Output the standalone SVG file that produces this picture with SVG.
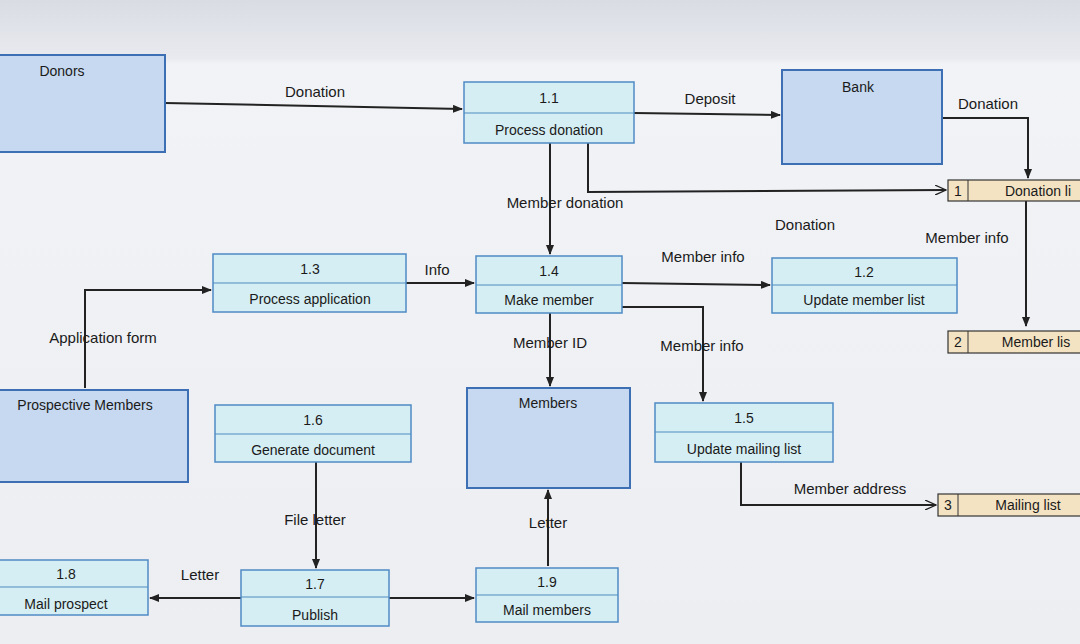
<svg xmlns="http://www.w3.org/2000/svg" width="1080" height="644" viewBox="0 0 1080 644">
<defs>
<marker id="a" markerWidth="10" markerHeight="8" refX="9" refY="4" orient="auto" markerUnits="userSpaceOnUse"><path d="M0,0 L10,4 L0,8 Z" fill="#222"/></marker>
<marker id="o" markerWidth="12" markerHeight="10" refX="11" refY="5" orient="auto" markerUnits="userSpaceOnUse"><path d="M0,0 L11,5 L0,10" fill="none" stroke="#222" stroke-width="1.3"/></marker>
<linearGradient id="bg" x1="0" y1="0" x2="0" y2="1"><stop offset="0" stop-color="#d9dce3"/><stop offset="0.09" stop-color="#e8eaef"/><stop offset="0.1" stop-color="#f1f3f6"/><stop offset="1" stop-color="#eceef2"/></linearGradient>
</defs>
<style>
text{font-family:"Liberation Sans",Arial,sans-serif;font-size:14px;fill:#1a1a1a;text-anchor:middle}
.ent{fill:#c6d9f0;stroke:#3d6fb4;stroke-width:2}
.proc{fill:#d5eef3;stroke:#4f8bc4;stroke-width:1.5}
.div{stroke:#4f8bc4;stroke-width:1.2}
.st{fill:#f4e3c3;stroke:#333;stroke-width:1.2}
.c{fill:none;stroke:#222;stroke-width:2}
.l{font-size:15px}
</style>
<rect width="1080" height="644" fill="url(#bg)"/>
<g id="connectors">
<path class="c" d="M165,103 L462,109" marker-end="url(#a)"/>
<text class="l" x="315" y="97">Donation</text>
<path class="c" d="M634,113 L780,115" marker-end="url(#a)"/>
<text class="l" x="710" y="104">Deposit</text>
<path class="c" d="M942,118 L1028,118 L1028,178" marker-end="url(#a)"/>
<text class="l" x="988" y="109">Donation</text>
<path class="c" d="M588,143 L588,192 L946,190" marker-end="url(#o)"/>
<path class="c" d="M550,143 L550,254" marker-end="url(#a)"/>
<text class="l" x="565" y="208">Member donation</text>
<path class="c" d="M406,283 L474,283" marker-end="url(#a)"/>
<text class="l" x="437" y="275">Info</text>
<path class="c" d="M622,283 L770,285" marker-end="url(#a)"/>
<text class="l" x="703" y="262">Member info</text>
<text class="l" x="805" y="230">Donation</text>
<text class="l" x="967" y="243">Member info</text>
<path class="c" d="M1026,200 L1026,326" marker-end="url(#a)"/>
<path class="c" d="M85,388 L85,290 L211,290" marker-end="url(#a)"/>
<text class="l" x="103" y="343">Application form</text>
<path class="c" d="M550,313 L550,386" marker-end="url(#a)"/>
<text class="l" x="550" y="348">Member ID</text>
<path class="c" d="M622,307 L703,307 L703,401" marker-end="url(#a)"/>
<text class="l" x="702" y="351">Member info</text>
<path class="c" d="M741,462 L741,505 L936,505" marker-end="url(#o)"/>
<text class="l" x="850" y="494">Member address</text>
<path class="c" d="M316,462 L316,568" marker-end="url(#a)"/>
<text class="l" x="315" y="525">File letter</text>
<path class="c" d="M241,598 L150,598" marker-end="url(#a)"/>
<text class="l" x="200" y="580">Letter</text>
<path class="c" d="M389,598 L474,598" marker-end="url(#a)"/>
<path class="c" d="M548,566 L548,490" marker-end="url(#a)"/>
<text class="l" x="548" y="528">Letter</text>
</g>
<g id="donors"><rect class="ent" x="-2" y="55" width="167" height="97"/><text x="62" y="76">Donors</text></g>
<g id="bank"><rect class="ent" x="782" y="70" width="160" height="94"/><text x="858" y="92">Bank</text></g>
<g id="prospective"><rect class="ent" x="-2" y="390" width="190" height="92"/><text x="85" y="410">Prospective Members</text></g>
<g id="members"><rect class="ent" x="467" y="388" width="163" height="100"/><text x="548" y="408">Members</text></g>
<g id="p11"><rect class="proc" x="464" y="82" width="170" height="61"/><line class="div" x1="464" y1="113" x2="634" y2="113"/><text x="549" y="103">1.1</text><text x="549" y="135">Process donation</text></g>
<g id="p13"><rect class="proc" x="213" y="254" width="193" height="58"/><line class="div" x1="213" y1="283" x2="406" y2="283"/><text x="310" y="274">1.3</text><text x="310" y="304">Process application</text></g>
<g id="p14"><rect class="proc" x="476" y="256" width="146" height="57"/><line class="div" x1="476" y1="285" x2="622" y2="285"/><text x="549" y="276">1.4</text><text x="549" y="305">Make member</text></g>
<g id="p12"><rect class="proc" x="772" y="258" width="185" height="55"/><line class="div" x1="772" y1="285" x2="957" y2="285"/><text x="864" y="277">1.2</text><text x="864" y="305">Update member list</text></g>
<g id="p15"><rect class="proc" x="655" y="403" width="178" height="59"/><line class="div" x1="655" y1="432" x2="833" y2="432"/><text x="744" y="423">1.5</text><text x="744" y="454">Update mailing list</text></g>
<g id="p16"><rect class="proc" x="215" y="405" width="196" height="57"/><line class="div" x1="215" y1="434" x2="411" y2="434"/><text x="313" y="425">1.6</text><text x="313" y="455">Generate document</text></g>
<g id="p17"><rect class="proc" x="241" y="570" width="148" height="56"/><line class="div" x1="241" y1="597" x2="389" y2="597"/><text x="315" y="589">1.7</text><text x="315" y="620">Publish</text></g>
<g id="p18"><rect class="proc" x="-2" y="560" width="150" height="55"/><line class="div" x1="-2" y1="587" x2="148" y2="587"/><text x="66" y="579">1.8</text><text x="66" y="609">Mail prospect</text></g>
<g id="p19"><rect class="proc" x="476" y="568" width="142" height="54"/><line class="div" x1="476" y1="595" x2="618" y2="595"/><text x="547" y="587">1.9</text><text x="547" y="615">Mail members</text></g>
<g id="d1"><rect class="st" x="948" y="180" width="140" height="21"/><line x1="968" y1="180" x2="968" y2="201" stroke="#333"/><text x="958" y="196">1</text><text x="1038" y="196">Donation li</text></g>
<g id="d2"><rect class="st" x="948" y="331" width="140" height="22"/><line x1="968" y1="331" x2="968" y2="353" stroke="#333"/><text x="958" y="347">2</text><text x="1036" y="347">Member lis</text></g>
<g id="d3"><rect class="st" x="938" y="494" width="150" height="22"/><line x1="958" y1="494" x2="958" y2="516" stroke="#333"/><text x="948" y="510">3</text><text x="1028" y="510">Mailing list</text></g>
</svg>
